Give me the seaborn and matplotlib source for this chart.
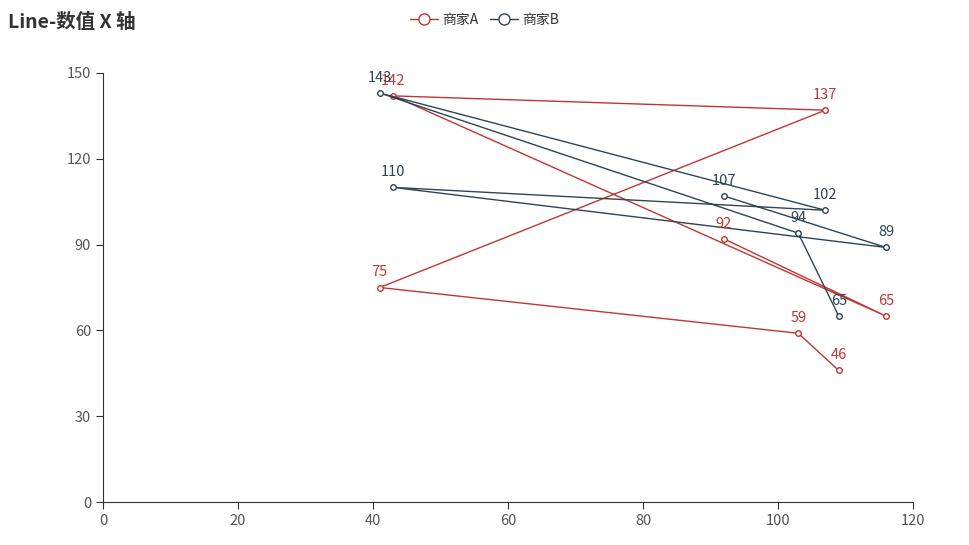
import matplotlib
matplotlib.use("Agg")
import matplotlib.pyplot as plt
import seaborn as sns
import pandas as pd
from matplotlib.lines import Line2D

sns.set_style("ticks")
plt.rcParams['font.family'] = ['Noto Sans CJK SC', 'DejaVu Sans']

a_x = [109, 103, 41, 107, 43, 116, 92]
a_y = [46, 59, 75, 137, 142, 65, 92]
b_x = [109, 103, 41, 107, 43, 116, 92]
b_y = [65, 94, 143, 102, 110, 89, 107]
names = ["商家A", "商家B"]
colors = ["#c23531", "#2f4554"]

fig = plt.figure(figsize=(9.69, 5.45), dpi=100)
ax = fig.add_axes([103/969, 1-502/545, 810/969, 429/545])
for name, xs, ys, c in [(names[0], a_x, a_y, colors[0]), (names[1], b_x, b_y, colors[1])]:
    df = pd.DataFrame({"x": xs, "y": ys})
    sns.lineplot(data=df, x="x", y="y", sort=False, ax=ax, color=c, lw=1,
                 marker="o", markersize=4, markerfacecolor="white",
                 markeredgecolor=c, markeredgewidth=1, estimator=None)
    for x, y in zip(xs, ys):
        ax.annotate(str(y), (x, y), xytext=(0, 6), textcoords="offset points",
                    ha="center", va="bottom", color=c, fontsize=10.5)
ax.set_xlim(0, 120)
ax.set_ylim(0, 150)
ax.set_xticks(range(0, 121, 20))
ax.set_yticks(range(0, 151, 30))
ax.set_xlabel("")
ax.set_ylabel("")
for s in ["top", "right"]:
    ax.spines[s].set_visible(False)
for s in ["left", "bottom"]:
    ax.spines[s].set_color("#333333")
ax.tick_params(colors="#333333", labelcolor="#555555", labelsize=10.5, length=5)

handles = [Line2D([], [], color=c, lw=1, marker="o", markersize=8,
                  markerfacecolor="white", markeredgecolor=c) for c in colors]
fig.legend(handles, names, loc="upper center", bbox_to_anchor=(0.5, 1.0), ncol=2,
           frameon=False, fontsize=10, handlelength=2, columnspacing=0.8,
           handletextpad=0.3, labelcolor="#333333")
fig.text(8/969, 1-22/545, "Line-数值 X 轴", fontsize=14, fontweight="bold",
         color="#333333", va="center")
fig.savefig("out.png", dpi=100)
